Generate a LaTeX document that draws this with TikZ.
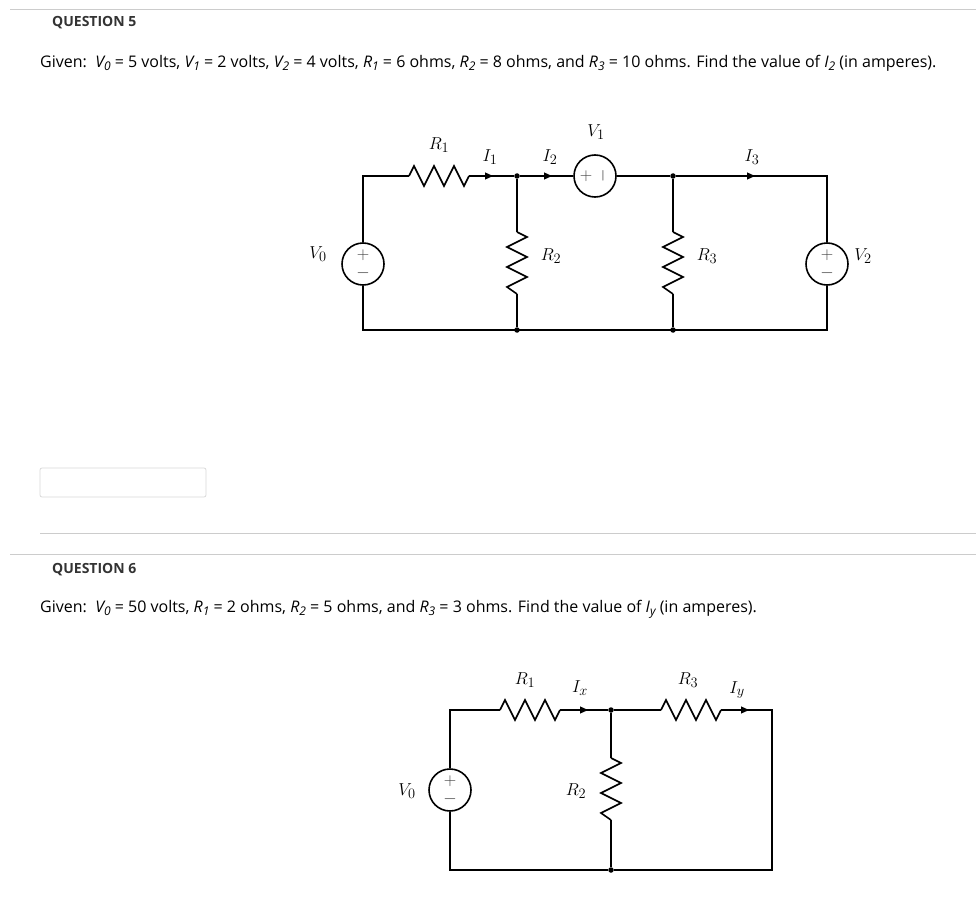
\documentclass[tikz,border=0pt]{standalone}
\usepackage{fontspec}
\setmainfont{Open Sans}
\usetikzlibrary{arrows.meta}
\newcommand{\vv}[2]{{\itshape #1}\raisebox{-0.35ex}{\itshape\fontsize{12}{12}\selectfont #2}}
\newcommand{\zzH}[2]{\draw[res,shift={(#1,#2)}] (0,0) -- (5,-10) -- (15,10) -- (25,-10) -- (35,10) -- (45,-10) -- (55,10) -- (60,0);}
\newcommand{\zzV}[2]{\draw[res,shift={(#1,#2)}] (0,0) -- (10,5) -- (-10,15) -- (10,25) -- (-10,35) -- (10,45) -- (-10,55) -- (0,62);}
\begin{document}
\begin{tikzpicture}[x=1pt,y=-1pt,
  wire/.style={line width=1.1pt},
  res/.style={line width=1.6pt,line join=miter},
  src/.style={circle,draw,line width=1.6pt,minimum size=42pt,inner sep=0pt},
  dot/.style={circle,fill,inner sep=0pt,minimum size=5.5pt},
  lab/.style={font=\fontsize{19}{20}\selectfont},
  sgn/.style={font=\fontsize{16}{16}\selectfont,text=black!75,inner sep=0pt},
  cur/.style={-{Triangle[length=8pt,width=7pt]},line width=1.1pt},
  txt/.style={anchor=west,font=\fontsize{16}{19}\selectfont,inner sep=0pt},
  hdr/.style={anchor=west,font=\fontsize{14}{16}\selectfont\bfseries,text=black!80,inner sep=0pt},
  rule/.style={draw=black!20,line width=0.8pt}]
\useasboundingbox (0,0) rectangle (976,904);
\fill[white] (0,0) rectangle (976,904);
% page furniture
\draw[rule] (10,9) -- (976,9);
\node[hdr] (h5) at (52,23) {QUESTION 5};
\node[txt] (g5) at (40,63) {Given:\ \ \vv{V}{0} = 5 volts, \vv{V}{1} = 2 volts, \vv{V}{2} = 4 volts, \vv{R}{1} = 6 ohms, \vv{R}{2} = 8 ohms, and \vv{R}{3} = 10 ohms. Find the value of \vv{I}{2} (in amperes).};
\draw[draw=black!15,line width=0.8pt,rounded corners=2pt] (40,468) rectangle (206,497);
\draw[rule] (40,533) -- (976,533);
\draw[rule] (10,554) -- (976,554);
\node[hdr] (h6) at (52,570) {QUESTION 6};
\node[txt] (g6) at (40,609) {Given:\ \ \vv{V}{0} = 50 volts, \vv{R}{1} = 2 ohms, \vv{R}{2} = 5 ohms, and \vv{R}{3} = 3 ohms. Find the value of \vv{I}{y} (in amperes).};

% ===== Circuit Q5 =====
\node[src] (v0) at (363,264) {};
\node[sgn] at (363,255) {$+$};
\node[sgn] at (363,273) {$-$};
\node[src] (v2) at (827,264) {};
\node[sgn] at (827,255) {$+$};
\node[sgn] at (827,273) {$-$};
\node[src] (v1) at (595,176) {};
\node[sgn] at (586,176) {$+$};
\node[sgn,rotate=90] at (603,176) {$-$};
\node[dot] (a) at (517,176) {};
\node[dot] (b) at (673,176) {};
\node[dot] (c) at (517,330) {};
\node[dot] (d) at (673,330) {};
\coordinate (tl) at (363,176); \coordinate (tr) at (827,176);
\coordinate (bl) at (363,330); \coordinate (br) at (827,330);
\draw[wire] (v0.north) -- (tl) -- (409,176);
\zzH{409}{176}
\draw[wire] (469,176) -- (a) -- (v1.west);
\draw[wire] (v1.east) -- (b) -- (tr) -- (v2.north);
\draw[wire] (v2.south) -- (br) -- (bl) -- (v0.south);
\draw[wire] (a) -- (517,232); \zzV{517}{232} \draw[wire] (517,294) -- (c);
\draw[wire] (b) -- (673,232); \zzV{673}{232} \draw[wire] (673,294) -- (d);
\draw[cur] (484,176) -- (493,176);
\draw[cur] (543,176) -- (552,176);
\draw[cur] (746,176) -- (755,176);
\node[lab] at (439,145) {$R_1$};
\node[lab] at (490,157) {$I_1$};
\node[lab] at (550,157) {$I_2$};
\node[lab] at (596,132) {$V_1$};
\node[lab] at (752,157) {$I_3$};
\node[lab] at (318,254) {$V_0$};
\node[lab] at (551,256) {$R_2$};
\node[lab] at (707,256) {$R_3$};
\node[lab] at (863,256) {$V_2$};

% ===== Circuit Q6 =====
\node[src] (w0) at (450,790) {};
\node[sgn] at (450,781) {$+$};
\node[sgn] at (450,799) {$-$};
\node[dot] (e) at (611,710) {};
\node[dot] (f) at (611,870) {};
\coordinate (ul) at (450,710); \coordinate (ur) at (772,710);
\coordinate (dl) at (450,870); \coordinate (dr) at (772,870);
\draw[wire] (w0.north) -- (ul) -- (500,710);
\zzH{500}{710}
\draw[wire] (560,710) -- (e) -- (661,710);
\zzH{661}{710}
\draw[wire] (721,710) -- (ur) -- (dr) -- (f) -- (dl) -- (w0.south);
\draw[wire] (e) -- (611,758); \zzV{611}{758} \draw[wire] (611,820) -- (f);
\draw[cur] (579,710) -- (588,710);
\draw[cur] (740,710) -- (749,710);
\node[lab] at (525,680) {$R_1$};
\node[lab] at (580,688) {$I_x$};
\node[lab] at (688,680) {$R_3$};
\node[lab] at (737,690) {$I_y$};
\node[lab] at (407,791) {$V_0$};
\node[lab] at (576,791) {$R_2$};
\end{tikzpicture}
\end{document}
